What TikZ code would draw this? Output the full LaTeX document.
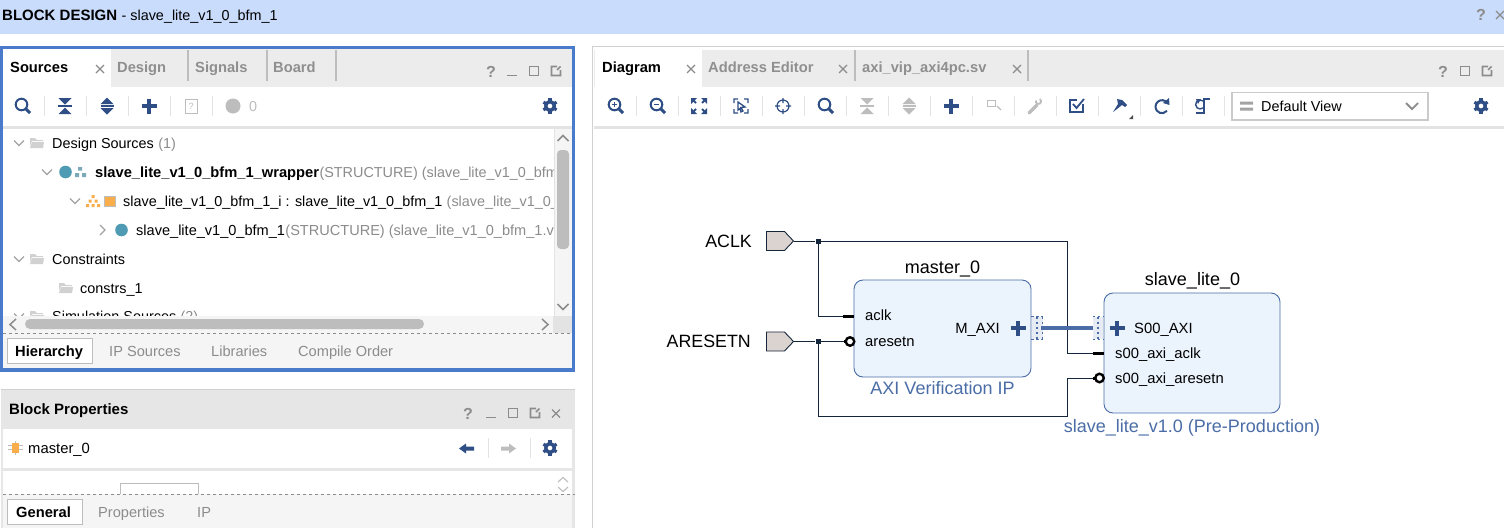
\documentclass[tikz,border=0pt]{standalone}
\usepackage{fontspec}
\setmainfont{Liberation Sans}
\usetikzlibrary{shapes.symbols}
\definecolor{topbar}{HTML}{C9DCFC}
\definecolor{frameblue}{HTML}{4A7BCB}
\definecolor{tabgrey}{HTML}{ECECEC}
\definecolor{sepgrey}{HTML}{E3E3E3}
\definecolor{softgrey}{HTML}{F5F5F5}
\definecolor{greytext}{HTML}{8C8C8C}
\definecolor{tabtext}{HTML}{8F8F8F}
\definecolor{iconblue}{HTML}{2F4E85}
\definecolor{icongrey}{HTML}{BDBDBD}
\definecolor{wire}{HTML}{15263A}
\definecolor{blockfill}{HTML}{EBF3FD}
\definecolor{blockline}{HTML}{4A6DA7}
\definecolor{portfill}{HTML}{DBD3CF}
\definecolor{teal}{HTML}{4E9BB3}
\definecolor{orangeic}{HTML}{F9AE4B}
\newcommand{\fsz}[1]{\fontsize{#1}{#1}\selectfont}
\newcommand{\icsearch}[3]{\draw[#3,line width=2,shift={(#1,#2)}] (-1.5,-1.5) circle (5.8);\draw[#3,line width=3,shift={(#1,#2)}] (2.8,2.8)--(7,7);}
\newcommand{\iccollapse}[3]{\fill[#3,shift={(#1,#2)}] (-6.5,-8)--(6.5,-8)--(0,-1.5)--cycle (-6.5,8)--(6.5,8)--(0,1.5)--cycle;\draw[#3,line width=1.3,shift={(#1,#2)}] (-7,0)--(7,0);}
\newcommand{\icexpand}[3]{\fill[#3,shift={(#1,#2)}] (-6.5,-2)--(6.5,-2)--(0,-8.5)--cycle (-6.5,2)--(6.5,2)--(0,8.5)--cycle;\draw[#3,line width=1.3,shift={(#1,#2)}] (-6.5,0)--(6.5,0);}
\newcommand{\icplus}[4][3.2]{\draw[#4,line width=#1,shift={(#2,#3)}] (-7.5,0)--(7.5,0) (0,-7.5)--(0,7.5);}
\newcommand{\icgear}[3]{\fill[#3,shift={(#1,#2)},even odd rule] (0,0) circle (5.9) (0,0) circle (2.5);
 \foreach \a in {0,60,...,300}{\draw[#3,line width=3.2,shift={(#1,#2)}] (\a+30:4.5)--(\a+30:7.6);}}
\newcommand{\icsep}[2]{\draw[sepgrey,line width=.9] (#1,#2-10)--(#1,#2+10);}
\newcommand{\ictimes}[3]{\draw[#3,line width=1.2,shift={(#1,#2)}] (-4,-4)--(4,4) (-4,4)--(4,-4);}
\newcommand{\ichelp}[3]{\node[inner sep=0,text=#3,font=\bfseries\fsz{16}] (#1) at (#2) {?};}
\newcommand{\icmax}[2]{\draw[#2,line width=1.9,shift={(#1)}] (-4.5,-4.5) rectangle (4.5,4.5);}
\newcommand{\icpop}[2]{\draw[#2,line width=1.6,shift={(#1)}] (1,-4.5)--(-4.5,-4.5)--(-4.5,4.5)--(4.5,4.5)--(4.5,-1) (1,-1)--(4.5,-4.5);}
\newcommand{\icmin}[2]{\draw[#2,line width=1.9,shift={(#1)}] (-5,4.5)--(5,4.5);}
\newcommand{\icfolder}[2]{\fill[#2,shift={(#1)}] (-7,-5)--(-2,-5)--(0,-3)--(6,-3)--(6,-2)--(-5,-2)--(-7,3)--cycle;\fill[#2,shift={(#1)}] (-5,-1)--(7,-1)--(6,5)--(-7,5)--cycle;}
\newcommand{\icdown}[1]{\draw[greytext!80,line width=1.1,shift={(#1)}] (-5,-2.5)--(0,2.5)--(5,-2.5);}
\tikzset{
  uitext/.style={anchor=base west,inner sep=0,font=\fsz{14.4},text=black},
  uibold/.style={uitext,font=\bfseries\fsz{14.7}},
  uigrey/.style={uitext,text=greytext},
  tabgreytext/.style={uitext,font=\bfseries\fsz{14.7},text=tabtext},
  lowtab/.style={uitext,font=\fsz{14.6},text=greytext},
  pinlabel/.style={anchor=base west,inner sep=0,font=\fsz{14.8},text=black},
  blocktitle/.style={inner sep=0,anchor=base,font=\fsz{18},text=black},
  blocktype/.style={inner sep=0,anchor=base,font=\fsz{18},text=blockline},
  ipblock/.style={draw=blockline,fill=blockfill,line width=.9,rounded corners=9,inner sep=0},
  extport/.style={shape=signal,signal to=east,signal from=nowhere,signal pointer angle=93,minimum width=27,minimum height=19,inner sep=0,draw=wire,fill=portfill,line width=.9},
  portname/.style={inner sep=0,anchor=base east,font=\fsz{17.8},text=black},
  wirepath/.style={draw=wire,line width=.9},
  junction/.style={fill=wire,inner sep=0,minimum size=5,shape=rectangle},
  pinstub/.style={draw=black,line width=3},
  bubble/.style={shape=circle,draw=black,fill=white,line width=2.4,inner sep=0,minimum size=8.5},
  busnode/.style={fill=blockfill!60!blockline!30,inner sep=0,minimum width=11,minimum height=22},
  busdots/.style={draw=blockline,line width=1.3,dash pattern=on 2.5 off 2.5},
  buswire/.style={draw=blockline,line width=3.6},
}
\begin{document}
\begin{tikzpicture}[x=1pt,y=-1pt]
\useasboundingbox (0,0) rectangle (1504,528);
\fill[white] (0,0) rectangle (1504,528);
%% title bar
\fill[topbar] (0,0) rectangle (1504,34);
\node[uibold,font=\bfseries\fsz{15}] (title) at (2,20) {BLOCK DESIGN};
\node[uitext,anchor=base west] (titlename) at (title.base east) {\ - slave\_lite\_v1\_0\_bfm\_1};
\ichelp{tophelp}{1481,15}{greytext}
\ictimes{1500}{15}{greytext}
%% Sources panel
\fill[tabgrey] (3,48) rectangle (572,87);
\fill[white] (3,48) rectangle (111,87);
\draw[icongrey,line width=1.1] (188,50)--(188,81) (267,50)--(267,81) (336,50)--(336,81);
\node[uibold] (tsources) at (10,72) {Sources};
\ictimes{100}{69}{greytext}
\node[tabgreytext] (tdesign) at (117,72) {Design};
\node[tabgreytext] (tsignals) at (195,72) {Signals};
\node[tabgreytext] (tboard) at (273,72) {Board};
\ichelp{shelp}{491,71.5}{greytext}
\icmin{512,71}{greytext}
\icmax{534,71}{greytext}
\icpop{556,71}{greytext}
\fill[white] (3,87) rectangle (572,126);
\fill[sepgrey] (3,126) rectangle (572,129);
\icsearch{23}{106}{iconblue}
\icsep{44}{106}
\iccollapse{65}{106}{iconblue}
\icsep{86}{106}
\icexpand{107}{106}{iconblue}
\icsep{128}{106}
\icplus{149}{106}{iconblue}
\icsep{170}{106}
\draw[icongrey,line width=.9] (185,99) rectangle (197,113);
\node[inner sep=0,font=\fsz{9},text=icongrey] (qmark) at (191,106) {?};
\icsep{212}{106}
\fill[icongrey] (233,106) circle (7.5);
\node[uitext,text=icongrey] (zero) at (249,111) {0};
\icgear{550}{106}{iconblue}
%% tree
\begin{scope}
\clip (3,129) rectangle (554,316);
\icdown{19,143}
\icfolder{37,143}{icongrey!70}
\node[uitext] (r1) at (52,148) {Design Sources};
\node[uigrey,anchor=base west] (r1b) at (r1.base east) {\ (1)};
\icdown{47,172}
\fill[teal] (65.5,172) circle (6.3);
\fill[icongrey!40!teal] (78,167) rectangle (82,170.5) (75,173) rectangle (79,177) (82,173) rectangle (86,177);
\node[uibold] (r2) at (95,177) {slave\_lite\_v1\_0\_bfm\_1\_wrapper};
\node[uigrey,anchor=base west] (r2b) at (r2.base east) {(STRUCTURE) (slave\_lite\_v1\_0\_bfm\_1\_wrapper.v)};
\icdown{75,201}
\fill[orangeic] (91.5,195) rectangle (94.5,198) (88.5,199.5) rectangle (91.5,202.5) (94.5,199.5) rectangle (97.5,202.5) (86,204) rectangle (89,207) (91.5,204) rectangle (94.5,207) (97,204) rectangle (100,207);
\draw[icongrey,line width=.8,fill=orangeic] (104.5,196) rectangle (115,206.5);
\node[uitext] (r3) at (123,206) {slave\_lite\_v1\_0\_bfm\_1\_i : slave\_lite\_v1\_0\_bfm\_1};
\node[uigrey,anchor=base west] (r3b) at (r3.base east) {\ (slave\_lite\_v1\_0\_bfm\_1.bd)};
\draw[greytext!80,line width=1.1] (100,225)--(105,230)--(100,235);
\fill[teal] (121.5,230) circle (6.3);
\node[uitext,font=\fsz{14.55}] (r4) at (136,235) {slave\_lite\_v1\_0\_bfm\_1};
\node[uigrey,font=\fsz{14.55},anchor=base west] (r4b) at (r4.base east) {(STRUCTURE) (slave\_lite\_v1\_0\_bfm\_1.vhd)};
\icdown{19,259}
\icfolder{37,259}{icongrey!70}
\node[uitext] (r5) at (52,264) {Constraints};
\icfolder{66,288}{icongrey!70}
\node[uitext] (r6) at (80,293) {constrs\_1};
\icdown{19,316}
\icfolder{37,316}{icongrey!70}
\node[uitext] (r7) at (52,321) {Simulation Sources};
\node[uigrey,anchor=base west] (r7b) at (r7.base east) {\ (2)};
\end{scope}
%% scroll bars
\fill[softgrey] (554,129) rectangle (572,316);
\draw[sepgrey,line width=.8] (554,129)--(554,316);
\draw[greytext,line width=1.5] (557.5,141)--(563,135.5)--(568.5,141);
\draw[greytext,line width=1.5] (557.5,304)--(563,309.5)--(568.5,304);
\fill[icongrey,rounded corners=4] (557,150) rectangle (569,249);
\fill[softgrey] (3,316) rectangle (572,333);
\fill[sepgrey] (553,316) rectangle (572,333);
\draw[greytext,line width=1.5] (16,319)--(10,324.5)--(16,330);
\draw[greytext,line width=1.5] (542,319)--(548,324.5)--(542,330);
\fill[icongrey,rounded corners=5] (25,319) rectangle (424,329);
\fill[softgrey] (3,333) rectangle (572,368);
\draw[greytext,dashed,line width=.7] (3,333)--(572,333);
\draw[icongrey,fill=white,line width=.8] (7.5,338.5) rectangle (92.5,363.5);
\node[uibold] (bhier) at (15,356) {Hierarchy};
\node[lowtab] (bip) at (109,356) {IP Sources};
\node[lowtab] (blib) at (211,356) {Libraries};
\node[lowtab] (bord) at (298,356) {Compile Order};
\draw[frameblue,line width=3.4] (1.7,47.7) rectangle (573.3,370);
%% Block properties
\fill[sepgrey!90!white] (1,389) rectangle (575,528);
\draw[icongrey!70,line width=.8] (1,389)--(575,389);
\node[uibold,font=\bfseries\fsz{15}] (bp) at (9,414) {Block Properties};
\ichelp{phelp}{468,414}{greytext}
\icmin{491,413}{greytext}
\icmax{513,413}{greytext}
\icpop{535,413}{greytext}
\ictimes{556}{413.5}{greytext}
\fill[white] (3,429) rectangle (572,468);
\fill[white] (3,471) rectangle (572,494);
\fill[icongrey] (15,441) -- (15,455) -- (16,455) -- (16,441) -- cycle;
\fill[orangeic] (12,443) rectangle (19,453);
\draw[icongrey,line width=.8] (8,445)--(12,445) (8,449)--(12,449) (19,445)--(23,445) (19,449)--(23,449);
\node[uitext,font=\fsz{14.8}] (pname) at (28,453) {master\_0};
\fill[iconblue] (459,448.5)--(466,443.5)--(466,446.5)--(474,446.5)--(474,450.5)--(466,450.5)--(466,453.5)--cycle;
\icsep{488}{448}
\fill[icongrey] (516,448.5)--(509,443.5)--(509,446.5)--(501,446.5)--(501,450.5)--(509,450.5)--(509,453.5)--cycle;
\icsep{530}{448}
\icgear{550}{448}{iconblue}
\draw[icongrey,line width=1.1] (558,482)--(563,477.5)--(568,482);
\draw[icongrey,line width=1.1] (558,487)--(563,491.5)--(568,487);
\draw[icongrey,line width=.8] (120.5,494)--(120.5,483.5)--(198.5,483.5)--(198.5,494);
\fill[softgrey] (3,494) rectangle (572,528);
\draw[greytext,dashed,line width=.7] (3,494)--(575,494);
\draw[icongrey,fill=white,line width=.8] (7.5,499.5) rectangle (82,524.5);
\node[uibold] (bgen) at (16,517) {General};
\node[lowtab] (bprop) at (98,517) {Properties};
\node[lowtab] (bipt) at (197,517) {IP};
%% Diagram panel
\draw[icongrey!70,line width=.9] (592,528)--(592,46.5)--(1504,46.5);
\fill[tabgrey] (594,50) rectangle (1504,87);
\fill[white] (595,50) rectangle (702,87);
\node[uibold] (tdiag) at (602,72) {Diagram};
\ictimes{691}{69}{greytext}
\node[tabgreytext] (taddr) at (708,72) {Address Editor};
\ictimes{843}{69}{greytext}
\draw[icongrey,line width=1.4] (855,50)--(855,81) (1028,50)--(1028,81);
\node[tabgreytext] (taxi) at (862,72) {axi\_vip\_axi4pc.sv};
\ictimes{1017}{69}{greytext}
\ichelp{dhelp}{1443,71.5}{greytext}
\icmax{1465,71}{greytext}
\icpop{1487,71}{greytext}
\fill[sepgrey] (594,126) rectangle (1504,129);
\foreach \sx in {636,678,...,1224}{\icsep{\sx}{106}}
\icsearch{616}{106}{iconblue}
\draw[iconblue,line width=1.2] (612,104.5)--(617,104.5) (614.5,102)--(614.5,107);
\icsearch{658}{106}{iconblue}
\draw[iconblue,line width=1.2] (654,104.5)--(659,104.5);
\begin{scope}[shift={(699,106)}]
\fill[iconblue] (-8,-8)--(-2,-8)--(-8,-2)--cycle (8,-8)--(2,-8)--(8,-2)--cycle (-8,8)--(-2,8)--(-8,2)--cycle (8,8)--(2,8)--(8,2)--cycle;
\draw[iconblue,line width=1.8] (-7,-7)--(-3,-3) (7,-7)--(3,-3) (-7,7)--(-3,3) (7,7)--(3,3);
\end{scope}
\draw[iconblue,line width=1.3,shift={(741,106)}] (-7,-3)--(-7,-7)--(-3,-7) (3,-7)--(7,-7)--(7,-3) (7,3)--(7,7)--(3,7) (-3,7)--(-7,7)--(-7,3) (-3,-4)--(4,1)--(0,1.5)--(2,5)--(0,6)--(-1,2.5)--(-3,4)--cycle;
\draw[iconblue,line width=1.2,shift={(783,106)}] (0,0) circle (6) (-8,0)--(-3,0) (3,0)--(8,0) (0,-8)--(0,-3) (0,3)--(0,8);
\icsearch{826}{106}{iconblue}
\iccollapse{867}{106}{icongrey}
\icexpand{909}{106}{icongrey}
\icplus{951}{106}{iconblue}
\draw[icongrey,line width=.9] (987,100) rectangle (995,106);
\draw[icongrey,line width=1.2] (997,106)--(1001,110);
\draw[icongrey,line width=3.4,line cap=round] (1029,113)--(1037,105);
\draw[icongrey,line width=1.8] (1036,100.5) arc (200:-60:2.6);
\draw[iconblue,line width=1.6] (1077,100)--(1070,100)--(1070,112)--(1083,112)--(1083,104);
\draw[iconblue,line width=1.8] (1073,104)--(1076.5,108)--(1084,99);
\fill[iconblue] (1113,112)--(1118,104)--(1117,99)--(1122,100)--(1127,105)--(1125,107)--(1122,105)--(1117,109)--cycle;
\fill[black!70] (1133,119)--(1129,119)--(1133,115)--cycle;
\draw[iconblue,line width=2] (1167,102.5) arc (-40:-320:6.5);
\fill[iconblue] (1169,98)--(1169.5,105)--(1163,103)--cycle;
\draw[iconblue,line width=1.4] (1203,101) arc (-50:-310:4.5);
\draw[iconblue,line width=1.4] (1196,113)--(1204,113)--(1204,99)--(1210,99);
\fill[iconblue] (1196,99)--(1201,99)--(1198,104)--cycle;
\draw[icongrey!80,fill=white,line width=1.3] (1232,92.5) rectangle (1428,120);
\fill[greytext!80] (1240,101.5) rectangle (1253,104.5) (1240,107.5) rectangle (1253,110.5);
\node[uitext] (dview) at (1261,111) {Default View};
\draw[greytext,line width=1.8] (1406,103)--(1412,109)--(1418,103);
\icgear{1481}{106}{iconblue}
%% block design
\node[extport] (paclk) at (775.5,241) {};
\node[extport] (parst) at (775.5,341.5) {};
\node[portname] (laclk) at (752,247) {ACLK};
\node[portname] (larst) at (751,347) {ARESETN};
\node[ipblock,minimum width=177,minimum height=97] (master) at (942.5,328.5) {};
\node[ipblock,minimum width=176,minimum height=120] (slave) at (1192,353) {};
\node[blocktitle] (mtitle) at (942.5,273) {master\_0};
\node[blocktype] (mtype) at (942.5,394) {AXI Verification IP};
\node[blocktitle] (stitle) at (1192.5,285) {slave\_lite\_0};
\node[blocktype] (stype) at (1192,432) {slave\_lite\_v1.0 (Pre-Production)};
\node[pinlabel] (paclkl) at (865,320) {aclk};
\node[pinlabel] (parstl) at (865,346) {aresetn};
\node[pinlabel,anchor=base east] (pmaxi) at (1000,333) {M\_AXI};
\node[pinlabel] (psaxi) at (1134,333) {S00\_AXI};
\node[pinlabel] (psclk) at (1115,358) {s00\_axi\_aclk};
\node[pinlabel] (psrst) at (1115,383) {s00\_axi\_aresetn};
\icplus{1018}{328}{iconblue}
\icplus{1117}{328}{iconblue}
\node[junction] (ja) at (818,241) {};
\node[junction] (jr) at (818,341.5) {};
\coordinate (mclk) at (843,316);
\coordinate (sclk) at (1093,353);
\coordinate (mrstb) at (844,341.5);
\coordinate (srstb) at (1093,378);
\coordinate (clkturn) at (1067,241);
\coordinate (rstturn) at (1067,416);
\coordinate (rstlow) at (818,416);
\path[wirepath] (paclk.east) -- (ja) -- (clkturn) |- (sclk);
\path[wirepath] (ja) |- (mclk);
\path[wirepath] (parst.east) -- (jr) -- (mrstb);
\path[wirepath] (jr) -- (rstlow) -- (rstturn) |- (srstb);
\path[pinstub] (mclk) -- (master.west |- mclk);
\path[pinstub] (sclk) -- (slave.west |- sclk);
\path[pinstub] (mrstb) -- (849,341.5);
\path[pinstub] (srstb) -- (1098,378);
\node[bubble] (mbub) at (850,341.5) {};
\node[bubble] (sbub) at (1099.5,378) {};
\node[busnode] (mbus) at (1037,328) {};
\node[busnode,minimum width=10] (sbus) at (1098,328) {};
\path[buswire] ([xshift=4]mbus.center) -- (sbus.west);
\draw[busdots] (mbus.north west)--(mbus.north east) (mbus.south west)--(mbus.south east) (mbus.north east)--(mbus.south east) (mbus.north)--(mbus.south);
\draw[busdots] (sbus.north west)--(sbus.north east) (sbus.south west)--(sbus.south east) (sbus.north)--(sbus.south);
\end{tikzpicture}
\end{document}
